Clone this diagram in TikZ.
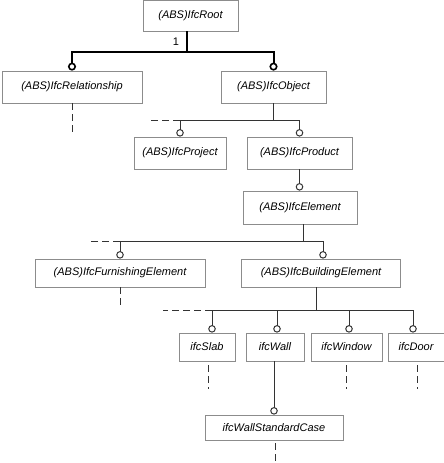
\documentclass[tikz,border=0pt]{standalone}
\usepackage{fontspec}
\setsansfont{Liberation Sans}
\usetikzlibrary{arrows.meta,calc}
\begin{document}
\begin{tikzpicture}[x=1pt,y=-1pt,
  cls/.style={draw=black!45,line width=0.8pt,fill=white,inner sep=0pt,font=\sffamily\itshape\fontsize{11}{12}\selectfont,text=black},
  link/.style={draw=black!80,line width=1pt},
  boldlink/.style={draw=black,line width=2pt},
  ring/.style={-{Circle[open,length=7.5pt,width=7.5pt,line width=1pt]}},
  boldring/.style={-{Circle[open,length=8pt,width=8pt,line width=1.6pt]}},
  more/.style={draw=black!80,line width=1pt,dash pattern=on 7pt off 4pt}]
\useasboundingbox (0,0) rectangle (444,463);
\node[cls,minimum width=95pt,minimum height=31pt] (root) at (190.5,15.5) {(ABS)IfcRoot};
\node[cls,minimum width=140pt,minimum height=32pt] (rel) at (72,87) {(ABS)IfcRelationship};
\node[cls,minimum width=105pt,minimum height=32pt] (obj) at (273.5,87) {(ABS)IfcObject};
\node[cls,minimum width=92pt,minimum height=32pt] (proj) at (180,153) {(ABS)IfcProject};
\node[cls,minimum width=105pt,minimum height=32pt] (prod) at (299.5,153) {(ABS)IfcProduct};
\node[cls,minimum width=114pt,minimum height=33pt] (elem) at (300,207.5) {(ABS)IfcElement};
\node[cls,minimum width=170pt,minimum height=28pt] (furn) at (120,273) {(ABS)IfcFurnishingElement};
\node[cls,minimum width=159pt,minimum height=28pt] (bldg) at (321,273) {(ABS)IfcBuildingElement};
\node[cls,minimum width=56pt,minimum height=28pt] (slab) at (207,347) {ifcSlab};
\node[cls,minimum width=58pt,minimum height=28pt] (wall) at (275,347) {ifcWall};
\node[cls,minimum width=71pt,minimum height=28pt] (win) at (346.5,347) {ifcWindow};
\node[cls,minimum width=56pt,minimum height=28pt] (door) at (416,347) {ifcDoor};
\node[cls,minimum width=138pt,minimum height=25pt] (wsc) at (274,427.5) {ifcWallStandardCase};
% root
\coordinate (j1) at (187,52);
\draw[boldlink] (root.south -| j1) -- (j1);
\draw[boldlink,boldring] (j1) -| (rel.north);
\draw[boldlink,boldring] (j1) -| (obj.north);
\node[font=\sffamily\fontsize{11}{12}\selectfont] (one) at (176,42) {1};
\draw[more] (rel.south) -- ++(0,32);
% object
\coordinate (j2) at (273.5,120);
\coordinate (d2) at (150,120);
\draw[link] (obj.south) -- (j2);
\draw[link,ring] (j2) -| (proj.north);
\draw[link,ring] (j2) -| (prod.north);
\draw[more] (proj.north |- j2) -- (d2);
% product
\draw[link,ring] (prod.south) -- (prod.south |- elem.north);
% element
\coordinate (j3) at (303,241);
\coordinate (d3) at (90,241);
\draw[link] (elem.south -| j3) -- (j3);
\draw[link,ring] (j3) -| (furn.north);
\draw[link,ring] (j3) -| ([xshift=2pt]bldg.north);
\draw[more] (furn.north |- j3) -- (d3);
\draw[more] (furn.south) -- ++(0,20);
% building element
\coordinate (j4) at (316,310);
\coordinate (d4) at (163,310);
\draw[link] (bldg.south -| j4) -- (j4);
\draw[link,ring] (j4) -| ([xshift=5pt]slab.north);
\draw[link,ring] (j4) -| ([xshift=2pt]wall.north);
\draw[link,ring] (j4) -| ([xshift=2.5pt]win.north);
\draw[link,ring] (j4) -| ([xshift=-3pt]door.north);
\draw[more] ([xshift=5pt]slab.north |- j4) -- (d4);
\draw[more] ([xshift=1pt]slab.south) ++(0,4) -- ++(0,24);
\draw[more] ([xshift=-0.5pt]win.south) ++(0,4) -- ++(0,24);
\draw[more] ([xshift=1pt]door.south) ++(0,4) -- ++(0,24);
% wall
\draw[link,ring] ([xshift=-1pt]wall.south) -- ([xshift=-1pt]wall.south |- wsc.north);
\draw[more] ([xshift=1pt]wsc.south) ++(0,3) -- ++(0,20);
\end{tikzpicture}
\end{document}
